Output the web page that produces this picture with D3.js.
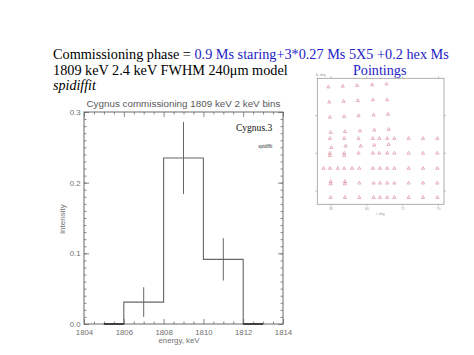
<!DOCTYPE html>
<html><head><meta charset="utf-8">
<script src="https://cdn.jsdelivr.net/npm/d3@7"></script>
<style>body{margin:0;background:#fff}</style></head>
<body><svg id="c" width="474" height="355"></svg>
<script>
// ---- spectrum data ----
const binEdges = [1805, 1806, 1808, 1810, 1812, 1813];
const binValues = [0, 0.031, 0.235, 0.0915, 0];
const errCenters = [1807, 1809, 1811];
const errValues = [0.031, 0.235, 0.0915];
const errSizes = [0.021, 0.051, 0.030];
const xTicks = [1804, 1806, 1808, 1810, 1812, 1814];
const yTicks = [0.0, 0.1, 0.2, 0.3];
const yTickLabels = ["0.0", "0.1", "0.2", "0.3"];

// ---- pointings (galactic lon / lat, deg) ----
const pointLon = [
  85.3, 83.3, 81.3, 79.2, 77.2,
  85.2, 83.2, 81.2, 79.1, 77.1,
  85.1, 83.1, 81.1, 79.0, 77.0,
  85.0, 83.0, 80.9, 78.9, 76.9,
  85.1, 83.1, 81.1, 79.1, 78.2, 77.1, 76.1, 74.1, 72.1, 70.1,
  84.9, 82.9, 80.8, 78.9, 76.9,
  85.1, 85.1, 83.1, 83.1, 81.1, 79.1, 78.2, 77.1, 76.1, 74.1, 72.1, 70.1,
  86.0, 85.1, 84.0, 83.1, 82.0, 81.0, 79.1, 78.1, 77.1, 76.1, 74.1, 72.1, 70.1,
  85.0, 85.0, 83.0, 83.0, 81.0, 79.0, 78.1, 77.1, 76.1, 74.1, 72.1, 70.1,
  85.0, 83.0, 81.0, 79.0, 78.1, 77.1, 76.1, 74.1, 72.1, 70.1
];
const pointLat = [
  8.7, 8.8, 8.9, 9.0, 9.1,
  6.7, 6.8, 6.9, 7.0, 7.0,
  4.7, 4.8, 4.9, 5.0, 5.1,
  2.7, 2.8, 2.9, 3.0, 3.1,
  1.9, 1.9, 1.9, 1.9, 1.9, 1.9, 1.9, 1.9, 1.9, 1.9,
  0.7, 0.9, 0.9, 1.0, 1.1,
  -0.05, -0.35, -0.05, -0.35, -0.05, -0.05, -0.05, -0.05, -0.05, -0.05, -0.05, -0.05,
  -2.05, -2.05, -2.05, -2.05, -2.05, -2.05, -2.05, -2.05, -2.05, -2.05, -2.05, -2.05, -2.05,
  -3.8, -4.1, -3.8, -4.1, -4.0, -4.0, -4.0, -4.0, -4.0, -4.0, -4.0, -4.0,
  -5.9, -5.9, -5.9, -5.9, -5.9, -5.9, -5.9, -5.9, -5.9, -5.9
];
const insetXTicks = [85, 80, 75, 70];
const insetYTicks = [5, 0, -5];

const svg = d3.select("#c");
const serif = "'Liberation Serif', 'Times New Roman', serif";
const sans = "'Liberation Sans', Arial, sans-serif";
const blue = "#2323c4";

function fit(sel, target) {
  const n = sel.node();
  const w = n.getComputedTextLength();
  const s = parseFloat(sel.attr("font-size"));
  sel.attr("font-size", s * target / w);
  return sel;
}

// ---- heading text ----
const l1 = svg.append("text").attr("x", 53).attr("y", 59).attr("font-family", serif).attr("font-size", 16).attr("fill", "#000");
l1.append("tspan").text("Commissioning phase = ");
l1.append("tspan").attr("fill", blue).text("0.9 Ms staring+3*0.27 Ms 5X5 +0.2 hex Ms");
fit(l1, 396);
const l2 = svg.append("text").attr("x", 53).attr("y", 75).attr("font-family", serif).attr("font-size", 16).attr("fill", "#000").text("1809 keV 2.4 keV FWHM 240\u03bcm model");
fit(l2, 235);
const l2b = svg.append("text").attr("x", 353).attr("y", 75).attr("font-family", serif).attr("font-size", 16).attr("fill", blue).text("Pointings");
fit(l2b, 53.5);
const l3 = svg.append("text").attr("x", 53).attr("y", 90).attr("font-family", serif).attr("font-style", "italic").attr("font-size", 16).attr("fill", "#000").text("spidiffit");
fit(l3, 43);

// ---- spectrum plot ----
const x = d3.scaleLinear().domain([1804, 1814]).range([84, 283]);
const y = d3.scaleLinear().domain([0, 0.3]).range([324, 112]);
const axCol = "#6a6a6a";
const lblCol = "#707070";

const title = svg.append("text").attr("x", 86.5).attr("y", 106.5).attr("font-family", sans).attr("font-size", 9.5).attr("fill", "#5a5a5a").text("Cygnus commissioning 1809 keV 2 keV bins");
fit(title, 194);

function styleAxis(g, labels) {
  g.select(".domain").remove();
  g.selectAll(".tick line").attr("stroke", axCol).attr("stroke-width", 0.8);
  g.selectAll(".tick text").attr("fill", lblCol).attr("font-family", sans).attr("font-size", 7.8);
  if (!labels) g.selectAll(".tick text").remove();
}
const minorX = d3.range(1804, 1814.01, 0.5).filter(v => Math.abs(v % 2) > 1e-6 && Math.abs(v % 2 - 2) > 1e-6);
const minorY = d3.range(0, 0.3001, 0.01);

// bottom
svg.append("g").attr("transform", `translate(0,${y(0)})`)
  .call(d3.axisBottom(x).tickValues(xTicks).tickFormat(d3.format("d")).tickSize(-5).tickPadding(5.5)).call(g => styleAxis(g, true));
svg.append("g").attr("transform", `translate(0,${y(0)})`)
  .call(d3.axisBottom(x).tickValues(minorX).tickSize(-2.5)).call(g => styleAxis(g, false));
// top
svg.append("g").attr("transform", `translate(0,${y(0.3)})`)
  .call(d3.axisTop(x).tickValues(xTicks).tickSize(-5)).call(g => styleAxis(g, false));
svg.append("g").attr("transform", `translate(0,${y(0.3)})`)
  .call(d3.axisTop(x).tickValues(minorX).tickSize(-2.5)).call(g => styleAxis(g, false));
// left
svg.append("g").attr("transform", `translate(${x(1804)},0)`)
  .call(d3.axisLeft(y).tickValues(yTicks).tickFormat((d, i) => yTickLabels[i]).tickSize(-5).tickPadding(3.5)).call(g => styleAxis(g, true));
svg.append("g").attr("transform", `translate(${x(1804)},0)`)
  .call(d3.axisLeft(y).tickValues(minorY).tickSize(-2.5)).call(g => styleAxis(g, false));
// right
svg.append("g").attr("transform", `translate(${x(1814)},0)`)
  .call(d3.axisRight(y).tickValues(yTicks).tickSize(-5)).call(g => styleAxis(g, false));
svg.append("g").attr("transform", `translate(${x(1814)},0)`)
  .call(d3.axisRight(y).tickValues(minorY).tickSize(-2.5)).call(g => styleAxis(g, false));

svg.append("rect").attr("x", x(1804)).attr("y", y(0.3)).attr("width", x(1814) - x(1804)).attr("height", y(0) - y(0.3))
  .attr("fill", "none").attr("stroke", axCol).attr("stroke-width", 1);

// histogram
const steps = [];
binValues.forEach((v, i) => { steps.push([binEdges[i], v]); steps.push([binEdges[i + 1], v]); });
svg.append("path").attr("d", d3.line().x(d => x(d[0])).y(d => y(d[1]))(steps))
  .attr("fill", "none").attr("stroke", "#666").attr("stroke-width", 1.1);
binValues.forEach((v, i) => {
  if (v === 0) svg.append("line").attr("x1", x(binEdges[i])).attr("x2", x(binEdges[i + 1])).attr("y1", y(0)).attr("y2", y(0))
    .attr("stroke", "#222").attr("stroke-width", 1.4);
});
// error bars
svg.selectAll(".err").data(errCenters).enter().append("line")
  .attr("x1", d => x(d)).attr("x2", d => x(d))
  .attr("y1", (d, i) => y(errValues[i] + errSizes[i])).attr("y2", (d, i) => y(errValues[i] - errSizes[i]))
  .attr("stroke", "#666").attr("stroke-width", 1);

// labels
svg.append("text").attr("x", 179).attr("y", 343).attr("text-anchor", "middle").attr("font-family", sans).attr("font-size", 7.8).attr("fill", lblCol).text("energy, keV");
svg.append("text").attr("transform", "translate(65,219) rotate(-90)").attr("text-anchor", "middle").attr("font-family", sans).attr("font-size", 8).attr("fill", lblCol).text("intensity");
const cyg = svg.append("text").attr("x", 236).attr("y", 130.7).attr("font-family", serif).attr("font-size", 11).attr("fill", "#111").text("Cygnus.3");
fit(cyg, 36.3);
const sp = svg.append("text").attr("x", 258.3).attr("y", 147.5).attr("font-family", sans).attr("font-size", 4).attr("fill", "#333").text("spidiffit");
fit(sp, 14);

// ---- inset pointings plot ----
const ix = d3.scaleLinear().domain([86.86, 69.17]).range([317.3, 444]);
const iy = d3.scaleLinear().domain([9.85, -6.8]).range([78.3, 204.3]);
const inCol = "#9a9a9a";
svg.append("rect").attr("x", ix(86.86)).attr("y", iy(9.85)).attr("width", ix(69.17) - ix(86.86)).attr("height", iy(-6.8) - iy(9.85))
  .attr("fill", "none").attr("stroke", inCol).attr("stroke-width", 0.8);
function inAxis(g) {
  g.select(".domain").remove();
  g.selectAll(".tick line").attr("stroke", inCol).attr("stroke-width", 0.6);
  g.selectAll(".tick text").attr("fill", "#999").attr("font-family", sans).attr("font-size", 3.5);
}
svg.append("g").attr("transform", `translate(0,${iy(-6.8)})`).call(d3.axisBottom(ix).tickValues(insetXTicks).tickSize(2).tickPadding(1.5)).call(inAxis);
svg.append("g").attr("transform", `translate(0,${iy(9.85)})`).call(d3.axisTop(ix).tickValues(insetXTicks).tickSize(2).tickFormat("")).call(inAxis);
svg.append("g").attr("transform", `translate(${ix(86.86)},0)`).call(d3.axisLeft(iy).tickValues(insetYTicks).tickSize(2).tickFormat("")).call(inAxis);
svg.append("g").attr("transform", `translate(${ix(69.17)},0)`).call(d3.axisRight(iy).tickValues(insetYTicks).tickSize(2).tickFormat("")).call(inAxis);
svg.append("text").attr("x", 380.5).attr("y", 214.5).attr("text-anchor", "middle").attr("font-family", sans).attr("font-size", 3.5).attr("fill", "#999").text("l, deg");
svg.append("text").attr("x", 316).attr("y", 76).attr("font-family", sans).attr("font-size", 3.5).attr("fill", "#999").text("b, deg");

const tri = d3.symbol().type(d3.symbolTriangle).size(4.5);
svg.selectAll(".pt").data(pointLon).enter().append("path")
  .attr("d", tri)
  .attr("transform", (d, i) => `translate(${ix(d)},${iy(pointLat[i])})`)
  .attr("fill", "none").attr("stroke", "#d88090").attr("stroke-width", 0.6);
</script>
</body></html>
